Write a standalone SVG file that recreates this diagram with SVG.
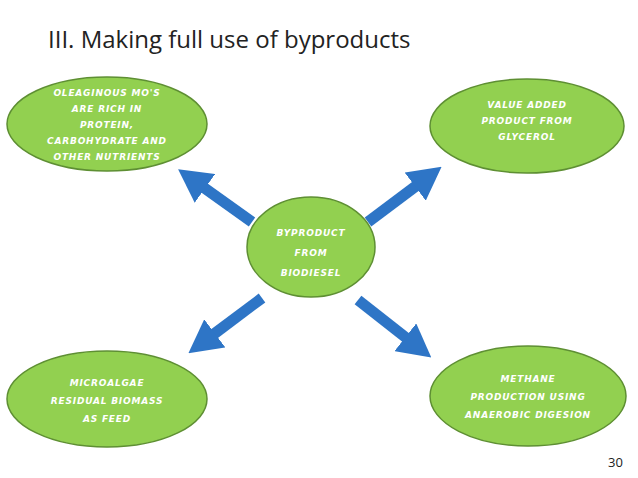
<svg xmlns="http://www.w3.org/2000/svg" width="638" height="478" viewBox="0 0 638 478">
<style>
.n{fill:#92d050;stroke:#5e8f33;stroke-width:1.5}
.t{fill:#fff;font-family:"DejaVu Sans",sans-serif;font-size:9px;font-style:italic;font-weight:bold;letter-spacing:0.8px;text-anchor:middle}
.a{stroke:#2e75c6;stroke-width:11;fill:none}
</style>
<defs><marker id="h" markerWidth="3" markerHeight="3.2" refX="1" refY="1.6" orient="auto" markerUnits="strokeWidth"><path d="M0,0L3,1.6L0,3.2Z" fill="#2e75c6"/></marker></defs>
<rect width="638" height="478" fill="#fff"/>
<text x="48" y="48" font-family="Open Sans,sans-serif" font-size="24" fill="#222">III. Making full use of byproducts</text>
<g id="connectors">
<line class="a" x1="252" y1="222" x2="196" y2="182" marker-end="url(#h)"/>
<line class="a" x1="368" y1="222" x2="424" y2="180" marker-end="url(#h)"/>
<line class="a" x1="262" y1="298" x2="206" y2="340" marker-end="url(#h)"/>
<line class="a" x1="358" y1="300" x2="414" y2="344" marker-end="url(#h)"/>
</g>
<g id="tl"><ellipse class="n" cx="107" cy="124" rx="100" ry="47"/>
<text class="t" x="107" y="96">OLEAGINOUS MO'S</text><text class="t" x="107" y="112">ARE RICH IN</text><text class="t" x="107" y="128">PROTEIN,</text><text class="t" x="107" y="144">CARBOHYDRATE AND</text><text class="t" x="107" y="160">OTHER NUTRIENTS</text></g>
<g id="tr"><ellipse class="n" cx="527" cy="126" rx="97" ry="47"/>
<text class="t" x="527" y="108">VALUE ADDED</text><text class="t" x="527" y="124">PRODUCT FROM</text><text class="t" x="527" y="140">GLYCEROL</text></g>
<g id="c"><ellipse class="n" cx="311" cy="247" rx="64" ry="50"/>
<text class="t" x="311" y="236">BYPRODUCT</text><text class="t" x="311" y="256">FROM</text><text class="t" x="311" y="276">BIODIESEL</text></g>
<g id="bl"><ellipse class="n" cx="107" cy="399" rx="100" ry="48"/>
<text class="t" x="107" y="386">MICROALGAE</text><text class="t" x="107" y="404">RESIDUAL BIOMASS</text><text class="t" x="107" y="422">AS FEED</text></g>
<g id="br"><ellipse class="n" cx="528" cy="396" rx="98" ry="50"/>
<text class="t" x="528" y="382">METHANE</text><text class="t" x="528" y="400">PRODUCTION USING</text><text class="t" x="528" y="418">ANAEROBIC DIGESION</text></g>
<text x="608" y="467" font-family="Open Sans,sans-serif" font-size="13" fill="#222">30</text>
</svg>
